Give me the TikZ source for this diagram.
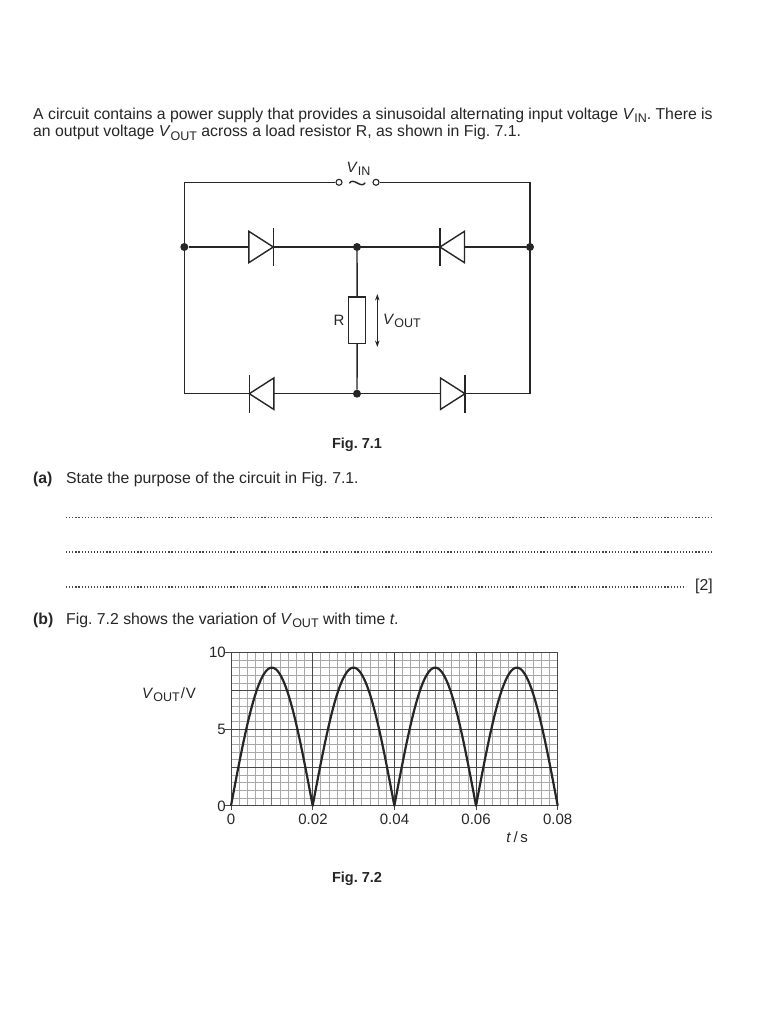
\documentclass[tikz,border=0pt]{standalone}
\usepackage{fontspec}
\setmainfont{Liberation Sans}
\usetikzlibrary{arrows.meta,calc}
\definecolor{ink}{HTML}{262626}
\tikzset{
  wire/.style={draw=ink,line width=1.4pt},
  dot/.style={circle,fill=ink,inner sep=0pt,minimum size=8pt},
  term/.style={circle,draw=ink,fill=white,line width=1.1pt,inner sep=0pt,minimum size=6pt},
  txt/.style={anchor=base west,inner sep=0pt,text=ink,font=\fontsize{15.8}{18}\selectfont},
  btxt/.style={anchor=base west,inner sep=0pt,text=ink,font=\bfseries\fontsize{15.8}{18}\selectfont},
  lab/.style={anchor=base,inner sep=0pt,text=ink,font=\fontsize{15}{17}\selectfont},
  figcap/.style={anchor=base,inner sep=0pt,text=ink,font=\bfseries\fontsize{14.5}{16}\selectfont},
  dotrule/.style={draw=ink!85,line width=1.2pt,dash pattern=on 1.2pt off 1.9pt},
  minorgrid/.style={draw=black!34,line width=0.7pt},
  majorgrid/.style={draw=black!72,line width=0.9pt},
  curve/.style={draw=ink,line width=2.2pt,line join=round}
}
\newcommand{\sbs}[1]{\raisebox{-3.5pt}{\fontsize{12.5}{14}\selectfont\upshape #1}}
\newcommand{\diodeR}[1]{%
  \draw[wire,fill=white] ($(#1)+(-24.5,-15.7)$) -- ($(#1)+(-24.5,15.7)$) -- (#1) -- cycle;
  \draw[wire] ($(#1)+(0,-19)$) -- ($(#1)+(0,19)$);}
\newcommand{\diodeL}[1]{%
  \draw[wire,fill=white] ($(#1)+(24.5,-15.7)$) -- ($(#1)+(24.5,15.7)$) -- (#1) -- cycle;
  \draw[wire] ($(#1)+(0,-19)$) -- ($(#1)+(0,19)$);}
\begin{document}
\frenchspacing
\begin{tikzpicture}[x=1pt,y=-1pt]
\useasboundingbox[fill=white] (0,0) rectangle (768,1024);

% body text
\node[txt] (l1) at (33,119.5) {A circuit contains a power supply that provides a sinusoidal alternating input voltage \textit{V}\sbs{IN}. There is};
\node[txt] (l2) at (33,137) {an output voltage \textit{V}\sbs{OUT} across a load resistor R, as shown in Fig. 7.1.};

% circuit
\coordinate (tl) at (184.3,182.3);
\coordinate (tr) at (530,182.3);
\coordinate (bl) at (184.3,393.7);
\coordinate (br) at (530,393.7);
\node[dot] (jl) at (184.3,247) {};
\node[dot] (jm) at (357,247) {};
\node[dot] (jr) at (530,247) {};
\node[dot] (jb) at (357,393.7) {};
\node[term] (t1) at (339,182.3) {};
\node[term] (t2) at (376,182.3) {};
\node[draw=ink,fill=white,line width=1.3pt,inner sep=0pt,minimum width=17pt,minimum height=46.5pt] (res) at (357.2,320.2) {};
\draw[wire] (t1) -- (tl) -- (bl) -- (br) -- (tr) -- (t2);
\draw[wire] (jl) -- (jr);
\draw[wire] (jm) -- (res);
\draw[wire] (res) -- (jb);
\coordinate (d1) at (273.3,247);
\coordinate (d2) at (440,247);
\coordinate (d3) at (249.3,393.7);
\coordinate (d4) at (465,393.7);
\diodeR{d1}
\diodeL{d2}
\diodeL{d3}
\diodeR{d4}
\coordinate (au) at (377.3,294);
\coordinate (ad) at (377.3,347);
\draw[draw=ink,line width=0.9pt,{Stealth[length=6.5pt,width=4.5pt]}-{Stealth[length=6.5pt,width=4.5pt]}] (au) -- (ad);
\node[lab,anchor=base west] (vin) at (346.5,172.5) {\textit{V}\sbs{IN}};
% alternating-supply symbol
\coordinate (ta) at (349.5,183);
\coordinate (tb) at (365,183);
\draw[draw=ink,line width=1.4pt,line cap=round] (ta) .. controls ($(ta)+(4,-6)$) and ($(tb)+(-4,6)$) .. (tb);
\node[lab] (rl) at (339,325) {R};
\node[lab,anchor=base west] (vout) at (383,324) {\textit{V}\sbs{OUT}};
\node[figcap] (f1) at (357,448) {Fig. 7.1};

% question text
\node[btxt] (qa) at (33,483) {(a)};
\node[txt] (qat) at (66,483) {State the purpose of the circuit in Fig. 7.1.};
\coordinate (r1a) at (66,517.5); \coordinate (r1b) at (713,517.5);
\coordinate (r2a) at (66,552); \coordinate (r2b) at (713,552);
\coordinate (r3a) at (66,587); \coordinate (r3b) at (686,587);
\draw[dotrule] (r1a) -- (r1b);
\draw[dotrule] (r2a) -- (r2b);
\draw[dotrule] (r3a) -- (r3b);
\node[txt] (mk) at (695,590) {[2]};
\node[btxt] (qb) at (33,624) {(b)};
\node[txt] (qbt) at (66,624) {Fig. 7.2 shows the variation of \textit{V}\sbs{OUT} with time \textit{t}.};

% graph
\begin{scope}[shift={(231,805.7)},x=8.1675pt,y=15.34pt]
  \foreach \i in {0,...,40} { \draw[minorgrid] (\i,0) -- (\i,10); }
  \foreach \j in {0,...,20} { \draw[minorgrid] (0,\j/2) -- (40,\j/2); }
  \foreach \i in {0,5,...,40} { \draw[minorgrid,draw=black!52] (\i,0) -- (\i,10); }
  \foreach \i in {0,10,...,40} { \draw[majorgrid] (\i,0) -- (\i,10); }
  \foreach \j in {0,2.5,5,7.5,10} { \draw[majorgrid] (0,\j) -- (40,\j); }
  \foreach \j in {0,5,10} { \draw[majorgrid] (-0.7,\j) -- (0,\j); }
  \foreach \i in {0,10,...,40} { \draw[majorgrid] (\i,0) -- (\i,-0.3); }
  \draw[curve] plot[samples=321,domain=0:40] (\x,{9*abs(sin(\x*18))});
\end{scope}
\foreach \n/\s/\y in {ya/10/657.5,yb/5/734.5,yc/0/811} { \node[lab,anchor=base east] (\n) at (226,\y) {\s}; }
\foreach \n/\s/\x in {xa/0/231,xb/0.02/313,xc/0.04/394.5,xd/0.06/476,xe/0.08/557.7} { \node[lab] (\n) at (\x,824.5) {\s}; }
\node[lab,anchor=base west] (yl) at (142,698) {\textit{V}\sbs{OUT}\kern1pt/\kern1pt V};
\node[lab,anchor=base east] (xl) at (528,842) {\textit{t}\,/\,s};
\node[figcap] (f2) at (357,882) {Fig. 7.2};
\end{tikzpicture}
\end{document}
